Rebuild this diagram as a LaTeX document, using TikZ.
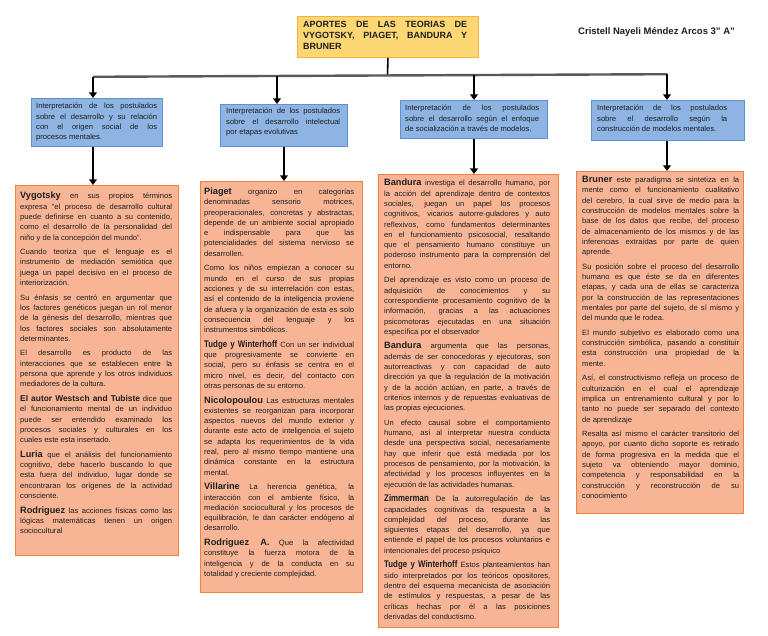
\documentclass[tikz,border=0pt]{standalone}
\usepackage{fontspec}
\setmainfont{Liberation Sans}
\newfontfamily\narrowfont[FakeStretch=0.82]{Liberation Sans}
\usetikzlibrary{arrows.meta}
\definecolor{ofill}{RGB}{248,181,150}
\definecolor{oline}{RGB}{238,130,60}
\definecolor{bfill}{RGB}{141,180,226}
\definecolor{bline}{RGB}{95,145,205}
\definecolor{tfill}{RGB}{252,215,115}
\definecolor{tline}{RGB}{245,175,60}
\definecolor{ink}{RGB}{30,30,30}
\newcommand\jl{\linebreak}
\newcommand\hd[1]{{\fontsize{9.2}{10.3}\selectfont\bfseries #1}}
\newcommand\hdsmall[1]{{\fontsize{8.4}{10.3}\selectfont\bfseries #1}}
\newcommand\hdn[1]{{\narrowfont\fontsize{9.6}{10.3}\selectfont\bfseries #1}}
\begin{document}
\begin{tikzpicture}[x=1pt,y=-1pt,
  obox/.style={fill=ofill, draw=oline, line width=0.9pt, inner sep=0pt, anchor=north west},
  bbox/.style={fill=bfill, draw=bline, line width=0.9pt, inner sep=0pt, anchor=north west},
  tbox/.style={fill=tfill, draw=tline, line width=0.9pt, inner sep=0pt, anchor=north west},
  body/.style={anchor=north west, inner sep=0pt, align=justify, text=ink,
    font=\fontsize{7.6}{10.3}\selectfont,
    execute at begin node={\setlength{\parskip}{4.3pt}\setlength{\parindent}{0pt}}},
  arr/.style={line width=2.4pt, -{Triangle[width=7.5pt,length=5.5pt]}},
  bar/.style={line width=2.4pt, draw=black!65},
]
\fill[white] (0,0) rectangle (768,636);
\useasboundingbox (0,0) rectangle (768,636);

% title
\node[tbox, minimum width=181pt, minimum height=41pt] (title) at (297,16) {};
\node[body, text width=164pt, font=\fontsize{9}{11.2}\selectfont\bfseries] (titletext) at (303,21)
 {APORTES DE LAS TEORIAS DE\jl VYGOTSKY, PIAGET, BANDURA Y\jl BRUNER};
\node[anchor=base west, inner sep=0pt, text=ink, font=\fontsize{9.5}{10}\selectfont\bfseries] (author) at (578,35)
 {Cristell Nayeli Méndez Arcos 3'' A''};

% blue boxes
\node[bbox, minimum width=131pt, minimum height=48pt] (b1) at (31,98) {};
\node[bbox, minimum width=127pt, minimum height=42pt] (b2) at (220,104) {};
\node[bbox, minimum width=147pt, minimum height=38pt] (b3) at (400,100) {};
\node[bbox, minimum width=153pt, minimum height=40pt] (b4) at (591,100) {};
\node[body, text width=121pt] (b1t) at (36,103)
 {Interpretación de los postulados\jl sobre el desarrollo y su relación\jl con el origen social de los\jl procesos mentales.};
\node[body, text width=114pt] (b2t) at (226,108)
 {Interpretación de los postulados\jl sobre el desarrollo intelectual\jl por etapas evolutivas};
\node[body, text width=134pt] (b3t) at (405,105)
 {Interpretación de los postulados\jl sobre el desarrollo según el enfoque\jl de socialización a través de modelos.};
\node[body, text width=130pt] (b4t) at (597,105)
 {Interpretación de los postulados\jl sobre el desarrollo según la\jl construcción de modelos mentales.};

% orange boxes
\node[obox, minimum width=163pt, minimum height=370pt] (o1) at (15,185) {};
\node[obox, minimum width=162pt, minimum height=411pt] (o2) at (200,181) {};
\node[obox, minimum width=180pt, minimum height=453pt] (o3) at (378,174) {};
\node[obox, minimum width=167pt, minimum height=342pt] (o4) at (576,171) {};

\node[body, text width=152pt] (o1t) at (20,192)
{\hd{Vygotsky} en sus propios términos\jl
expresa "el proceso de desarrollo cultural\jl
puede definirse en cuanto a su contenido,\jl
como el desarrollo de la personalidad del\jl
niño y de la concepción del mundo".\par
Cuando teoriza que el lenguaje es el\jl
instrumento de mediación semiótica que\jl
juega un papel decisivo en el proceso de\jl
interiorización.\par
Su énfasis se centró en argumentar que\jl
los factores genéticos juegan un rol menor\jl
de la génesis del desarrollo, mientras que\jl
los factores sociales son absolutamente\jl
determinantes.\par
El desarrollo es producto de las\jl
interacciones que se establecen entre la\jl
persona que aprende y los otros individuos\jl
mediadores de la cultura.\par
\hdsmall{El autor Westsch and Tubiste} dice que\jl
el funcionamiento mental de un individuo\jl
puede ser entendido examinado los\jl
procesos sociales y culturales en los\jl
cuales este esta insertado.\par
\hd{Luria} que el análisis del funcionamiento\jl
cognitivo, debe hacerlo buscando lo que\jl
esta fuera del individuo, lugar donde se\jl
encontraran los orígenes de la actividad\jl
consciente.\par
\hd{Rodriguez} las acciones físicas como las\jl
lógicas matemáticas tienen un origen\jl
sociocultural};

\node[body, text width=150pt] (o2t) at (204,187.6)
{\hd{Piaget} organizo en categorías\jl
denominadas sensorio motrices,\jl
preoperacionales, concretas y abstractas,\jl
depende de un ambiente social apropiado\jl
e indispensable para que las\jl
potencialidades del sistema nervioso se\jl
desarrollen.\par
Como los niños empiezan a conocer su\jl
mundo en el curso de sus propias\jl
acciones y de su interrelación con estas,\jl
así el contenido de la inteligencia proviene\jl
de afuera y la organización de esta es solo\jl
consecuencia del lenguaje y los\jl
instrumentos simbólicos.\par
\hdn{Tudge y Winterhoff} Con un ser individual\jl
que progresivamente se convierte en\jl
social, pero su énfasis se centra en el\jl
micro nivel, es decir, del contacto con\jl
otras personas de su entorno.\par
\hd{Nicolopoulou} Las estructuras mentales\jl
existentes se reorganizan para incorporar\jl
aspectos nuevos del mundo exterior y\jl
durante este acto de inteligencia el sujeto\jl
se adapta los requerimientos de la vida\jl
real, pero al mismo tiempo mantiene una\jl
dinámica constante en la estructura\jl
mental.\par
\hd{Villarine} La herencia genética, la\jl
interacción con el ambiente físico, la\jl
mediación sociocultural y los procesos de\jl
equilibración, le dan carácter endógeno al\jl
desarrollo.\par
\hd{Rodriguez A.} Que la afectividad\jl
constituye la fuerza motora de la\jl
inteligencia y de la conducta en su\jl
totalidad y creciente complejidad.};

\node[body, text width=166pt] (o3t) at (384,179)
{\hd{Bandura} investiga el desarrollo humano, por\jl
la acción del aprendizaje dentro de contextos\jl
sociales, juegan un papel los procesos\jl
cognitivos, vicarios autorre-guladores y auto\jl
reflexivos, como fundamentos determinantes\jl
en el funcionamiento psicosocial, resaltando\jl
que el pensamiento humano constituye un\jl
poderoso instrumento para la comprensión del\jl
entorno.\par
Del aprendizaje es visto como un proceso de\jl
adquisición de conocimientos y su\jl
correspondiente procesamiento cognitivo de la\jl
información, gracias a las actuaciones\jl
psicomotoras ejecutadas en una situación\jl
específica por el observador\par
\hd{Bandura} argumenta que las personas,\jl
además de ser conocedoras y ejecutoras, son\jl
autorreactivas y con capacidad de auto\jl
dirección ya que la regulación de la motivación\jl
y de la acción actúan, en parte, a través de\jl
criterios internos y de repuestas evaluativas de\jl
las propias ejecuciones.\par
Un efecto causal sobre el comportamiento\jl
humano, así al interpretar nuestra conducta\jl
desde una perspectiva social, necesariamente\jl
hay que inferir que está mediada por los\jl
procesos de pensamiento, por la motivación, la\jl
afectividad y los procesos influyentes en la\jl
ejecución de las actividades humanas.\par
\hdn{Zimmerman} De la autorregulación de las\jl
capacidades cognitivas da respuesta a la\jl
complejidad del proceso, durante las\jl
siguientes etapas del desarrollo, ya que\jl
entiende el papel de los procesos voluntarios e\jl
intencionales del proceso psíquico\par
\hdn{Tudge y Winterhoff} Estos planteamientos han\jl
sido interpretados por los teóricos opositores,\jl
dentro del esquema mecanicista de asociación\jl
de estímulos y respuestas, a pesar de las\jl
críticas hechas por él a las posiciones\jl
derivadas del conductismo.};

\node[body, text width=157pt] (o4t) at (582,176)
{\hd{Bruner} este paradigma se sintetiza en la\jl
mente como el funcionamiento cualitativo\jl
del cerebro, la cual sirve de medio para la\jl
construcción de modelos mentales sobre la\jl
base de los datos que recibe, del proceso\jl
de almacenamiento de los mismos y de las\jl
inferencias extraídas por parte de quien\jl
aprende.\par
Su posición sobre el proceso del desarrollo\jl
humano es que éste se da en diferentes\jl
etapas, y cada una de ellas se caracteriza\jl
por la construcción de las representaciones\jl
mentales por parte del sujeto, de sí mismo y\jl
del mundo que le rodea.\par
El mundo subjetivo es elaborado como una\jl
construcción simbólica, pasando a constituir\jl
esta construcción una propiedad de la\jl
mente.\par
Así, el constructivismo refleja un proceso de\jl
culturización en el cual el aprendizaje\jl
implica un entrenamiento cultural y por lo\jl
tanto no puede ser separado del contexto\jl
de aprendizaje\par
Resalta así mismo el carácter transitorio del\jl
apoyo, por cuanto dicho soporte es retirado\jl
de forma progresiva en la medida que el\jl
sujeto va obteniendo mayor dominio,\jl
competencia y responsabilidad en la\jl
construcción y reconstrucción de su\jl
conocimiento};

% connectors
\coordinate (hub) at (387.5,75.5);
\coordinate (hL) at (93,76.8);
\coordinate (hR) at (667,74.2);
\coordinate (c2) at (277,76);
\coordinate (c3) at (474,75.1);
\draw[line width=1.6pt] (title.south) -- (hub);
\draw[bar] (hL) -- (hR);
\draw[arr] (hL) -- (hL |- b1.north);
\draw[arr] (c2) -- (c2 |- b2.north);
\draw[arr] (c3) -- (c3 |- b3.north);
\draw[arr] (hR) -- (hR |- b4.north);
\draw[arr] (b1.south -| hL) -- (o1.north -| hL);
\draw[arr] (b2.south) -- (b2.south |- o2.north);
\draw[arr] (b3.south -| c3) -- (o3.north -| c3);
\draw[arr] (b4.south -| hR) -- (o4.north -| hR);
\end{tikzpicture}
\end{document}
